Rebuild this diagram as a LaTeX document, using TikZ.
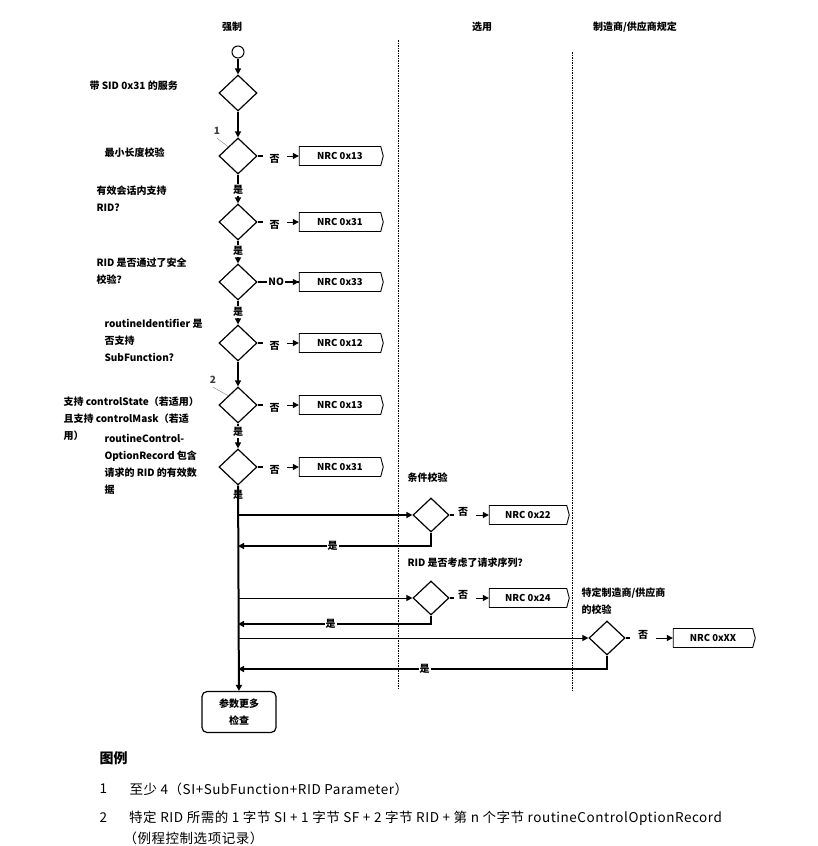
\documentclass[tikz,border=0pt]{standalone}
\usepackage{fontspec}
\setmainfont{Noto Sans CJK SC}
\usetikzlibrary{shapes.geometric,shapes.symbols,arrows.meta}
\begin{document}
\begin{tikzpicture}[x=1pt,y=-1pt,
  dia/.style={draw,line width=1.2pt,diamond,minimum width=38,minimum height=36,inner sep=0},
  nrc/.style={draw,line width=0.9pt,signal,signal to=east,signal pointer angle=150,minimum width=84,minimum height=19,inner sep=1pt,font=\bfseries\fontsize{9.5}{10}\selectfont},
  lab/.style={font=\bfseries\fontsize{10}{17}\selectfont,align=left,anchor=west},
  yn/.style={font=\bfseries\fontsize{10}{10}\selectfont,inner sep=1pt,fill=white},
  leg/.style={anchor=west,font=\fontsize{13.5}{13}\selectfont\addfontfeature{LetterSpace=4}},
  main/.style={line width=2pt},
  ar/.style={-{Triangle[length=6pt,width=6pt]}},
  sep/.style={line width=1pt,dash pattern=on 1.5pt off 1pt}]
\useasboundingbox (0,0) rectangle (818,846);
% headers
\node[font=\bfseries\fontsize{10}{10}\selectfont] (h1) at (232,27) {强制};
\node[font=\bfseries\fontsize{10}{10}\selectfont] (h2) at (482,27) {选用};
\node[font=\bfseries\fontsize{10}{10}\selectfont] (h3) at (635,27) {制造商/供应商规定};
\coordinate (s1a) at (398,40); \coordinate (s1b) at (398,690);
\coordinate (s2a) at (572,52); \coordinate (s2b) at (572,690);
\draw[sep] (s1a)--(s1b); \draw[sep] (s2a)--(s2b);
% start
\node[draw,circle,line width=1pt,minimum size=12,inner sep=0] (st) at (238,52) {};
\node[dia] (d1) at (238,93) {};
\node[dia] (d2) at (238,156) {};
\node[dia] (d3) at (238,222) {};
\node[dia] (d4) at (238,282) {};
\node[dia] (d5) at (238,343) {};
\node[dia] (d6) at (238,405) {};
\node[dia] (d7) at (238,467) {};
\draw[main,ar] (st)--(d1);
\draw[main,ar] (d1)--(d2);
\foreach \a/\b in {d2/d3,d3/d4,d4/d5,d5/d6,d6/d7}{
  \draw[main,ar] (\a)--(\b);
}
\foreach \y in {190,251,312,432,495}{\node[yn] at (238,\y) {是};}
% NRC boxes
\foreach \d/\t/\n in {d2/NRC 0x13/n2,d3/NRC 0x31/n3,d4/NRC 0x33/n4,d5/NRC 0x12/n5,d6/NRC 0x13/n6,d7/NRC 0x31/n7}{
  \node[nrc] (\n) at ([xshift=102]\d.center) {\t};
}
\foreach \d/\n in {d2/n2,d3/n3,d5/n5,d6/n6,d7/n7}{
  \coordinate (q\d) at ([xshift=5]\d.east);
  \draw[line width=1.5pt] (\d.east)--(q\d);
  \node[yn,fill=none] at ([xshift=12,yshift=-3]q\d) {否};
  \coordinate (p\d) at ([xshift=-12]\n.west);
  \draw[line width=1pt,ar] (p\d)--(\n.west);
}
\draw[line width=1.5pt] (d4.east)--(n4.west) node[pos=0.45,yn] {NO};
\draw[line width=1pt,ar] ([xshift=-8]n4.west)--(n4.west);
% refs
\node[font=\bfseries\fontsize{10}{10}\selectfont,text=black!75] (r1) at (217,131) {1};
\draw[thin,gray] (r1.south)--(d2.north west);
\node[font=\bfseries\fontsize{10}{10}\selectfont,text=black!75] (r2) at (213,380) {2};
\draw[thin,gray] (r2.south)--(d6.north west);
% left labels
\node[lab] at (86,86) {带 SID 0x31 的服务};
\node[lab] at (101,153) {最小长度校验};
\node[lab] at (93,199) {有效会话内支持\\RID?};
\node[lab] at (93,271) {RID 是否通过了安全\\校验？};
\node[lab] at (101,340) {routineIdentifier 是\\否支持\\SubFunction?};
\node[lab] at (60,419) {支持 controlState（若适用）\\且支持 controlMask（若适\\用）};
\node[lab] at (101,464) {routineControl-\\OptionRecord 包含\\请求的 RID 的有效数\\据};
% main line continues
\node[draw,rounded corners=5pt,line width=1.2pt,minimum width=74,minimum height=41,align=center,font=\bfseries\fontsize{10}{17}\selectfont] (end) at (239,712) {参数更多\\检查};
\draw[main,ar] (d7)--(end);
% optional checks
\node[lab] at (404,478) {条件校验};
\node[dia,minimum width=36,minimum height=34] (e1) at (431,515) {};
\node[nrc,minimum width=80] (o1) at (528,515) {NRC 0x22};
\coordinate (l1) at (238,515);
\draw[main,ar] (l1)--(e1);
\draw[line width=1.5pt] (e1.east)--++(4,0);
\node[yn,fill=none] at (463,512) {否};
\draw[line width=1pt,ar] (476,515)--(o1.west);
\coordinate (b1) at (431,546); \coordinate (c1) at (238,546);
\draw[main,ar] (e1.south)--(b1)--(c1) node[pos=0.5,yn,xshift=-2pt] {是};

\node[lab] at (404,563) {RID 是否考虑了请求序列？};
\node[dia,minimum width=36,minimum height=34] (e2) at (431,598) {};
\node[nrc,minimum width=80] (o2) at (528,598) {NRC 0x24};
\coordinate (l2) at (238,598);
\draw[line width=1pt,ar] (l2)--(e2);
\draw[line width=1.5pt] (e2.east)--++(4,0);
\node[yn,fill=none] at (463,595) {否};
\draw[line width=1pt,ar] (476,598)--(o2.west);
\coordinate (b2) at (431,624); \coordinate (c2) at (238,624);
\draw[main,ar] (e2.south)--(b2)--(c2) node[pos=0.5,yn,xshift=-4pt] {是};

\node[lab] at (578,601) {特定制造商/供应商\\的校验};
\node[dia,minimum width=36,minimum height=34] (e3) at (607,638) {};
\node[nrc,minimum width=82] (o3) at (713,638) {NRC 0xXX};
\coordinate (l3) at (238,638);
\draw[line width=1pt,ar] (l3)--(e3);
\draw[line width=1.5pt] (e3.east)--++(4,0);
\node[yn,fill=none] at (643,635) {否};
\draw[line width=1pt,ar] (656,638)--(o3.west);
\coordinate (b3) at (607,669); \coordinate (c3) at (238,669);
\draw[main,ar] (e3.south)--(b3)--(c3) node[pos=0.5,yn,xshift=2pt] {是};
% legend
\node[anchor=west,font=\bfseries\fontsize{14}{14}\selectfont] (lg) at (96,758) {图例};
\node[leg] (k1) at (96,789) {1};
\node[leg] (t1) at (126,789) {至少 4（SI+SubFunction+RID Parameter）};
\node[leg] (k2) at (96,818) {2};
\node[leg,inner sep=0] (t2) at (129,818) {特定 RID 所需的 1 字节 SI + 1 字节 SF + 2 字节 RID + 第 n 个字节 routineControlOptionRecord};
\node[leg] (t3) at (120,838) {（例程控制选项记录）};
\end{tikzpicture}
\end{document}
